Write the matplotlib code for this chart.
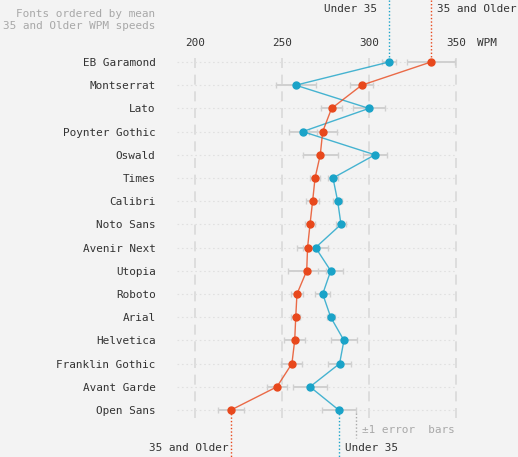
import matplotlib

matplotlib.use("Agg")
import matplotlib.pyplot as plt

fonts = [
    "EB Garamond", "Montserrat", "Lato", "Poynter Gothic", "Oswald", "Times",
    "Calibri", "Noto Sans", "Avenir Next", "Utopia", "Roboto", "Arial",
    "Helvetica", "Franklin Gothic", "Avant Garde", "Open Sans",
]
under35 = [311.5, 257.9, 300.0, 261.9, 303.4, 279.3, 282.0, 283.9,
           269.3, 278.0, 273.4, 278.0, 285.6, 283.1, 266.1, 282.6]
under35_err = [4.0, 11.5, 9.0, 8.0, 6.7, 2.7, 2.5, 2.6,
               7.3, 7.3, 4.3, 2.4, 7.3, 6.6, 10.0, 9.8]
older35 = [335.6, 295.8, 278.5, 273.4, 272.0, 269.0, 267.6, 266.1,
           264.7, 264.2, 258.6, 257.9, 257.3, 255.7, 247.1, 220.7]
older35_err = [14.0, 6.7, 6.0, 8.0, 10.0, 2.7, 3.8, 2.7,
               6.3, 11.0, 3.4, 2.6, 6.2, 6.0, 5.7, 7.5]
ticks = [200, 250, 300, 350]

BG = "#f3f3f3"
ORANGE = "#e8481c"
BLUE = "#1aa3c8"
TEXT = "#333333"
GRAY = "#a8a8a8"
MONO = "DejaVu Sans Mono"
FS = 7.9

W, H = 518, 457
fig = plt.figure(figsize=(W / 100, H / 100), dpi=100)
fig.patch.set_facecolor(BG)

# axes placed in pixel terms: x 175..470, y 50..425
ax = fig.add_axes([175 / W, 1 - 425 / H, 295 / W, 375 / H])
ax.set_facecolor(BG)
ax.set_xlim(188.51, 358.05)
ax.set_ylim(15 + 15 / 23.2, -12 / 23.2)
for s in ax.spines.values():
    s.set_visible(False)

rows = list(range(len(fonts)))


def py(pix):
    # pixel row -> data y
    return (pix - 62) / 23.2


for x in ticks:
    ax.plot([x, x], [py(58), py(420)], color="#d9d9d9", lw=1.2,
            ls=(0, (6, 4)), zorder=0, clip_on=False)
for r in rows:
    ax.plot([189.7, 350], [r, r], color="#e0e0e0", lw=0.8,
            ls=(0, (1.5, 2.5)), zorder=0, clip_on=False)

ax.errorbar(older35, rows, xerr=older35_err, fmt="none", ecolor="#d0d0d0",
            elinewidth=1.4, capsize=2, capthick=1, zorder=1)
ax.errorbar(under35, rows, xerr=under35_err, fmt="none", ecolor="#d0d0d0",
            elinewidth=1.4, capsize=2, capthick=1, zorder=1)
ax.plot(under35, rows, color=BLUE, lw=1.0, alpha=0.8, zorder=2)
ax.plot(older35, rows, color=ORANGE, lw=1.0, alpha=0.8, zorder=2)
ax.plot(under35, rows, "o", color=BLUE, ms=5, zorder=3)
ax.plot(older35, rows, "o", color=ORANGE, ms=5, zorder=3)

ax.set_yticks(rows)
ax.set_yticklabels(fonts, fontfamily=MONO, fontsize=FS, color=TEXT)
ax.tick_params(axis="y", length=0, pad=14)
ax.xaxis.tick_top()
ax.set_xticks(ticks)
ax.set_xticklabels([str(t) for t in ticks], fontfamily=MONO, fontsize=FS, color=TEXT)
ax.tick_params(axis="x", length=0, pad=1.5)
ax.text(367.8, py(43), "WPM", fontfamily=MONO, fontsize=FS, color=TEXT,
        ha="center", va="center")

fig.text(155 / W, 1 - 20 / H, "Fonts ordered by mean\n35 and Older WPM speeds",
         fontfamily=MONO, fontsize=FS, color=GRAY, ha="right", va="center",
         linespacing=1.25)

# series labels with dotted leaders
dot = (0, (1, 1.5))
ax.plot([under35[0]] * 2, [py(0), 0], color=BLUE, lw=1, ls=dot, clip_on=False, zorder=1)
ax.plot([older35[0]] * 2, [py(0), 0], color=ORANGE, lw=1, ls=dot, clip_on=False, zorder=1)
ax.text(under35[0] - 7, py(9), "Under 35", fontfamily=MONO, fontsize=FS,
        color=TEXT, ha="right", va="center")
ax.text(older35[0] + 3.5, py(9), "35 and Older", fontfamily=MONO, fontsize=FS,
        color=TEXT, ha="left", va="center")

last = rows[-1]
ax.plot([under35[-1]] * 2, [last, py(457)], color=BLUE, lw=1, ls=dot, clip_on=False, zorder=1)
ax.plot([older35[-1]] * 2, [last, py(457)], color=ORANGE, lw=1, ls=dot, clip_on=False, zorder=1)
ax.text(older35[-1] - 1.7, py(448), "35 and Older", fontfamily=MONO, fontsize=FS,
        color=TEXT, ha="right", va="center")
ax.text(under35[-1] + 3.5, py(448), "Under 35", fontfamily=MONO, fontsize=FS,
        color=TEXT, ha="left", va="center")

err_x = under35[-1] + under35_err[-1]
ax.plot([err_x, err_x], [last + 0.15, py(438)], color=GRAY, lw=1, ls=dot,
        clip_on=False, zorder=1)
ax.text(err_x + 3.5, py(430), "\u00b11 error  bars", fontfamily=MONO,
        fontsize=FS, color=GRAY, ha="left", va="center")

fig.savefig("out.png", dpi=100, facecolor=BG)
